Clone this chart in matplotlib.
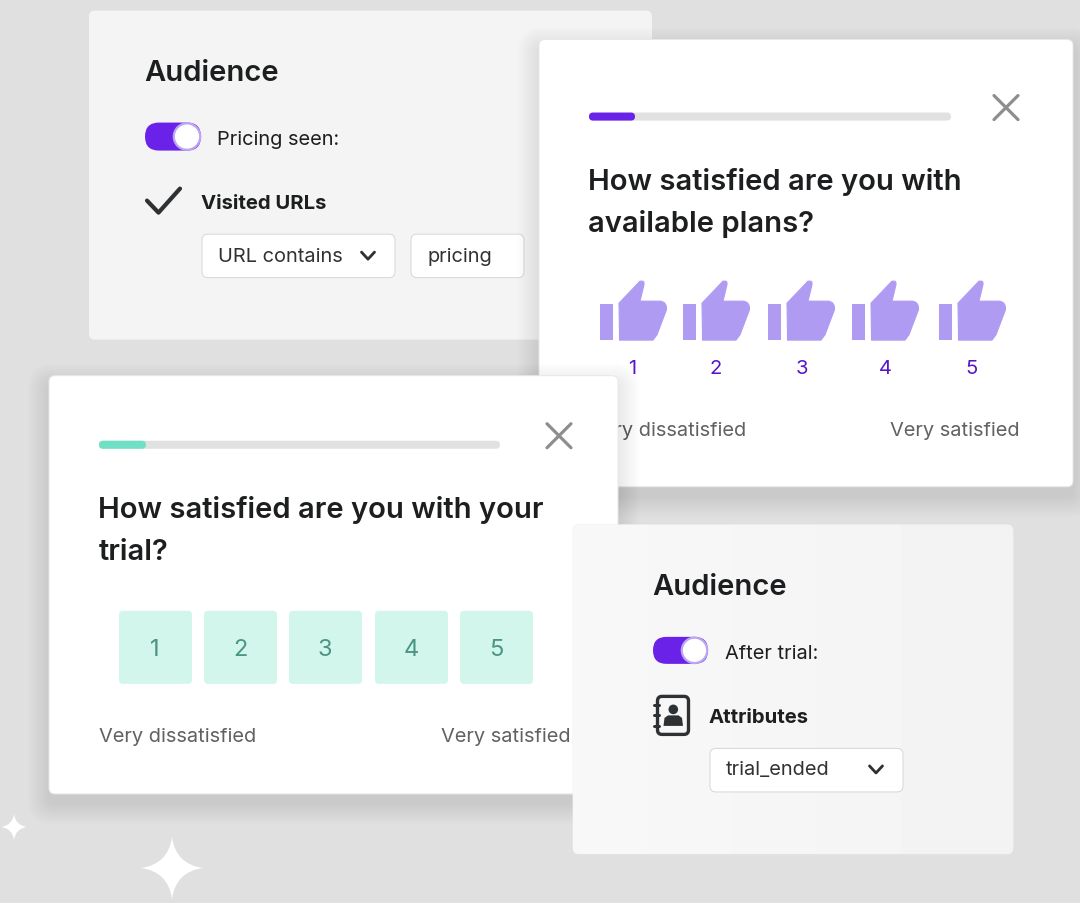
import numpy as np
import matplotlib
matplotlib.use("Agg")
import matplotlib.pyplot as plt
from matplotlib.patches import FancyBboxPatch, PathPatch, Circle, Rectangle
from matplotlib.path import Path

plt.rcParams['font.family'] = ['Inter', 'DejaVu Sans']

ratings = ['1', '2', '3', '4', '5']
scale_low = 'Very dissatisfied'
scale_high = 'Very satisfied'
q_plans = ['How satisfied are you with', 'available plans?']
q_trial = ['How satisfied are you with your', 'trial?']
audience_title = 'Audience'
toggle_labels = ['Pricing seen:', 'After trial:']
rule_labels = ['Visited URLs', 'Attributes']
dropdown_labels = ['URL contains', 'trial_ended']
input_label = 'pricing'

BG = '#e0e0e0'; INK = '#1c1e1f'; GREY = '#616161'; PURPLE = '#6a22e8'
LILAC = '#b09bf2'; VIOLET = '#5a14c8'; MINT = '#d2f5ec'; TEAL = '#6fe0c6'; TEALTXT = '#4b9583'
BODY = 14.4; TITLE = 21

fig = plt.figure(figsize=(10.8, 9.035), dpi=100, facecolor=BG)
ax = fig.add_axes([0, 0, 1, 1])
ax.set_xlim(0, 1080); ax.set_ylim(903, 0); ax.axis('off')


def rrect(x0, y0, x1, y1, r=6, fc='white', ec='none', lw=0, alpha=None, z=1):
    p = FancyBboxPatch((x0 + r, y0 + r), x1 - x0 - 2 * r, y1 - y0 - 2 * r,
                       boxstyle=f'round,pad={r},rounding_size={r}', fc=fc, ec=ec,
                       lw=lw, alpha=alpha, zorder=z)
    ax.add_patch(p)
    return p


def shadow(x0, y0, x1, y1, z, dy=9, spread=22, a=0.0055):
    for i in range(spread, 0, -1):
        rrect(x0 - i, y0 - i + dy, x1 + i, y1 + i + dy, r=5 + i, fc='black', alpha=a, z=z)


def text(x, y, s, size, color=INK, weight='normal', ha='left', z=10):
    return ax.text(x, y, s, fontsize=size, color=color, fontweight=weight, ha=ha,
                   va='baseline', zorder=z)


def line(xs, ys, color, lw, z=10):
    ax.plot(xs, ys, color=color, lw=lw * 0.72, solid_capstyle='round',
            solid_joinstyle='round', zorder=z)


def toggle(x0, y0, x1, y1, z):
    rrect(x0, y0, x1, y1, r=(y1 - y0) / 2, fc=PURPLE, z=z)
    r = (y1 - y0) / 2
    ax.add_patch(Circle((x1 - r, y0 + r), r - 0.8, fc='white', ec='#bba6f2', lw=1.6, zorder=z + 0.1))


def chevron(cx, cy, z):
    line([cx - 6.5, cx, cx + 6.5], [cy - 3.5, cy + 3.5, cy - 3.5], '#2e3133', 2.8, z)


def box(x0, y0, x1, y1, z):
    rrect(x0, y0, x1, y1, r=6, fc='white', ec='#d6d6d6', lw=0.7, z=z)


def cross(cx, cy, h, z):
    line([cx - h, cx + h], [cy - h, cy + h], '#8e8e8e', 3.2, z)
    line([cx - h, cx + h], [cy + h, cy - h], '#8e8e8e', 3.2, z)


def thumb(x, z):
    ax.add_patch(Rectangle((x, 304), 12.5, 36.7, fc=LILAC, ec='none', zorder=z))
    pts = [(19, 303.5), (40, 281.5), (43, 281.5), (44, 283), (44, 285), (40, 301.5),
           (60, 301.5), (67, 302), (66.5, 310), (57, 335), (53, 340.4), (24, 340.4), (19.5, 340.4), (19.5, 334)]
    codes = [Path.MOVETO, Path.LINETO, Path.LINETO, Path.LINETO, Path.LINETO, Path.LINETO,
             Path.LINETO, Path.CURVE3, Path.CURVE3, Path.LINETO, Path.LINETO, Path.LINETO, Path.LINETO, Path.LINETO]
    verts = [(x + px, py) for px, py in pts]
    ax.add_patch(PathPatch(Path(verts + [verts[0]], codes + [Path.CLOSEPOLY]), fc=LILAC, ec=LILAC,
                           lw=0.8, joinstyle='round', zorder=z))


def star(cx, cy, r):
    k = 0.12 * r
    v = [(cx, cy - r), (cx + k, cy - k), (cx + r, cy), (cx + k, cy + k), (cx, cy + r),
         (cx - k, cy + k), (cx - r, cy), (cx - k, cy - k), (cx, cy - r)]
    c = [Path.MOVETO] + [Path.CURVE3] * 8
    ax.add_patch(PathPatch(Path(v, c), fc='white', ec='none', zorder=0.5))


# sparkles
star(14, 827, 13)
star(172, 868, 31)

# card 1: audience / pricing
rrect(89, 11, 652, 340, r=6, fc='#f4f4f4', z=1)
text(144.5, 81, audience_title, TITLE, weight=600, z=2)
toggle(145, 123, 201, 151, 2)
text(217, 145, toggle_labels[0], BODY, z=2)
line([147, 158.5, 180], [201, 213, 189], '#2e3133', 4.2, 2)
text(201, 209, rule_labels[0], 14.6, weight=700, z=2)
box(202, 234.5, 395, 278, 2)
text(218, 262, dropdown_labels[0], BODY, color='#303335', z=3)
chevron(368, 256, 3)
box(411, 234.5, 524, 278, 2)
text(427.5, 262, input_label, BODY, color='#303335', z=3)

# card 2: thumbs survey
shadow(539, 40, 1073, 487, 3)
rrect(539, 40, 1073, 487, r=6, fc='white', ec='#e8e8e8', lw=0.7, z=4)
rrect(589, 113, 951, 121, r=4, fc='#e1e1e1', z=5)
rrect(589, 113, 635, 121, r=4, fc=PURPLE, z=5.1)
cross(1006, 108, 12, 5)
text(588.5, 190, q_plans[0], TITLE, weight=600, z=5)
text(588.5, 232, q_plans[1], TITLE, weight=600, z=5)
for lab, tx, nx in zip(ratings, [600, 683, 768, 852, 939], [633, 716, 802, 886, 972]):
    thumb(tx, 5)
    text(nx - 0.5, 374, lab, 14.5, color=VIOLET, ha='center', z=5)
text(589, 436, scale_low, BODY, color=GREY, z=5)
text(1019.5, 436, scale_high, BODY, color=GREY, ha='right', z=5)

# card 3: numeric survey
shadow(49, 376, 618, 794, 6)
rrect(49, 376, 618, 794, r=6, fc='white', ec='#e8e8e8', lw=0.7, z=7)
rrect(99, 441, 500, 449, r=4, fc='#e1e1e1', z=8)
rrect(99, 441, 146, 449, r=4, fc=TEAL, z=8.1)
cross(559, 436, 12, 8)
text(98.5, 518, q_trial[0], TITLE, weight=600, z=8)
text(98.5, 560, q_trial[1], TITLE, weight=600, z=8)
for lab, x0 in zip(ratings, [119, 204, 289, 375, 460]):
    rrect(x0, 611, x0 + 73, 684, r=4, fc=MINT, z=8)
    text(x0 + 36, 656, lab, 17, color=TEALTXT, ha='center', z=9)
text(99, 742, scale_low, BODY, color=GREY, z=8)
text(570.5, 742, scale_high, BODY, color=GREY, ha='right', z=8)

# card 4: audience / trial
card4 = rrect(573, 525, 1013, 854, r=6, fc='#f5f5f5', ec='#ececec', lw=0.6, z=11)
grad = np.linspace(0.972, 0.952, 64).reshape(1, -1)
im = ax.imshow(grad, extent=(573, 1013, 854, 525), cmap='gray', vmin=0, vmax=1, aspect='auto',
               interpolation='bilinear', zorder=11.1)
im.set_clip_path(card4)
ax.set_xlim(0, 1080); ax.set_ylim(903, 0)
text(652.5, 595, audience_title, TITLE, weight=600, z=12)
toggle(653, 637, 708, 664, 12)
text(725, 659, toggle_labels[1], BODY, z=12)
rrect(657.5, 696.5, 688.5, 734.5, r=4.5, fc='none', ec='#2e3133', lw=2.4, z=12)
for ty in [705, 715.5, 726]:
    line([654, 659], [ty, ty], '#2e3133', 3, 12.1)
ax.add_patch(Circle((673.3, 709.5), 4.8, fc='#2e3133', ec='none', zorder=12))
body_v = [(663.5, 726), (664.5, 718), (668, 715.5), (678.5, 715.5), (682, 718), (683, 726), (663.5, 726)]
ax.add_patch(PathPatch(Path(body_v, [Path.MOVETO] + [Path.LINETO] * 5 + [Path.CLOSEPOLY]),
                       fc='#2e3133', ec='none', zorder=12))
text(709, 723, rule_labels[1], 14.6, weight=700, z=12)
box(710, 748.5, 903, 792, 12)
text(726, 775, dropdown_labels[1], BODY, color='#303335', z=13)
chevron(876, 769.5, 13)

fig.savefig('out.png', dpi=100, facecolor=BG)
